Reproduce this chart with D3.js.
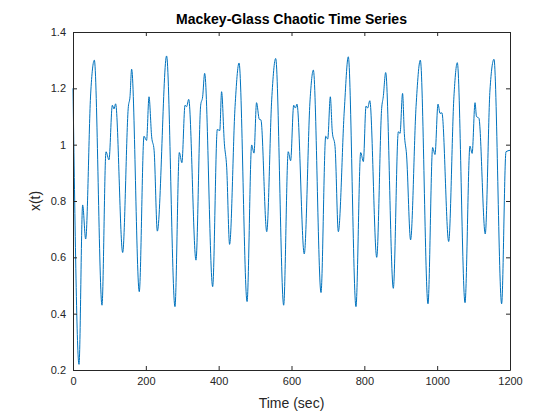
<!DOCTYPE html>
<html><head><meta charset="utf-8">
<script src="https://cdn.jsdelivr.net/npm/d3@7"></script>
<style>body{margin:0;background:#fff}svg{font-family:"Liberation Sans",Arial,sans-serif}</style>
</head><body><svg id="c" width="560" height="420"></svg>
<script>
const times=[0,16.5,26.5,34.8,48.5,58.6,79.6,90.6,98.8,108,112.6,117,136.4,152,156.5,161,182,195,202,208.7,216,222.7,231.6,257,280,292,299,307.6,312,317.7,337.7,350.6,356,361.5,383.5,396.3,403,408,415.6,422,430,445,456,478,490.6,497,504,511.6,516,532,545.6,556.6,578.5,591,597.6,606,610.7,615,635,651,660,681,694,699.5,706.6,712,719.6,728.6,745,756,777,790,797.3,804.6,809,815,834,847.6,852,858.6,879.6,893.4,898,905,909.8,916,927,942,953.8,974.8,987.6,994,1002.3,1008,1013,1031.6,1046,1055.3,1076.5,1090,1096,1104,1108,1114.6,1132,1145,1156,1177,1189,1200];
const values=[1.2,0.22,0.786,0.665,1.18,1.30,0.43,0.975,0.946,1.14,1.127,1.145,0.617,1.135,1.17,1.268,0.478,1.03,1.015,1.17,1.028,0.98,0.693,1.315,0.425,0.972,0.936,1.14,1.135,1.161,0.59,1.14,1.17,1.253,0.496,1.054,1.05,1.188,1.005,0.92,0.646,1.135,1.29,0.443,0.999,0.97,1.149,1.09,1.088,0.691,1.159,1.306,0.43,0.975,0.943,1.14,1.13,1.144,0.612,1.159,1.265,0.475,1.03,1.02,1.17,1.046,0.993,0.691,1.123,1.312,0.425,0.972,0.94,1.137,1.13,1.156,0.6,1.129,1.17,1.256,0.49,1.046,1.04,1.182,1.04,0.963,0.662,1.135,1.30,0.435,0.99,0.965,1.144,1.111,1.113,0.656,1.17,1.291,0.439,0.995,0.969,1.149,1.1,1.094,0.683,1.194,1.303,0.435,0.975,0.98];
const xTicks=[0,200,400,600,800,1000,1200];
const yTicks=[0.2,0.4,0.6,0.8,1,1.2,1.4];
const L=73,R=510,T=32,B=370;
const svg=d3.select("#c");
const x=d3.scaleLinear().domain([0,1200]).range([L,R]);
const y=d3.scaleLinear().domain([0.2,1.4]).range([B,T]);
const data=times.map((t,i)=>[t,values[i]]);
svg.append("path").datum(data).attr("fill","none").attr("stroke","#0072BD").attr("stroke-width",1)
 .attr("d",d3.line().x(d=>x(d[0])).y(d=>y(d[1])).curve(d3.curveMonotoneX));
const fmt=d=>String(d);
const ax=(g,a)=>{g.call(a);g.selectAll("path").attr("stroke","#262626");g.selectAll("line").attr("stroke","#262626");g.selectAll("text").attr("fill","#262626").style("font-size","11px");};
svg.append("g").attr("transform",`translate(0,${B})`).call(g=>ax(g,d3.axisBottom(x).tickValues(xTicks).tickFormat(fmt).tickSizeInner(-4).tickSizeOuter(0).tickPadding(7)));
svg.append("g").attr("transform",`translate(${L},0)`).call(g=>ax(g,d3.axisLeft(y).tickValues(yTicks).tickFormat(fmt).tickSizeInner(-4).tickSizeOuter(0).tickPadding(7)));
svg.append("g").attr("transform",`translate(0,${T})`).call(g=>{ax(g,d3.axisTop(x).tickValues(xTicks).tickSizeInner(-4).tickSizeOuter(0));g.selectAll("text").remove();});
svg.append("g").attr("transform",`translate(${R},0)`).call(g=>{ax(g,d3.axisRight(y).tickValues(yTicks).tickSizeInner(-4).tickSizeOuter(0));g.selectAll("text").remove();});
svg.append("text").attr("x",(L+R)/2).attr("y",24).attr("text-anchor","middle").style("font-weight","bold").style("font-size","14px").attr("fill","#000").text("Mackey-Glass Chaotic Time Series");
svg.append("text").attr("x",(L+R)/2).attr("y",408).attr("text-anchor","middle").style("font-size","14px").attr("fill","#262626").text("Time (sec)");
svg.append("text").attr("transform",`translate(40,${(T+B)/2}) rotate(-90)`).attr("text-anchor","middle").style("font-size","14px").attr("fill","#262626").text("x(t)");
</script></body></html>
